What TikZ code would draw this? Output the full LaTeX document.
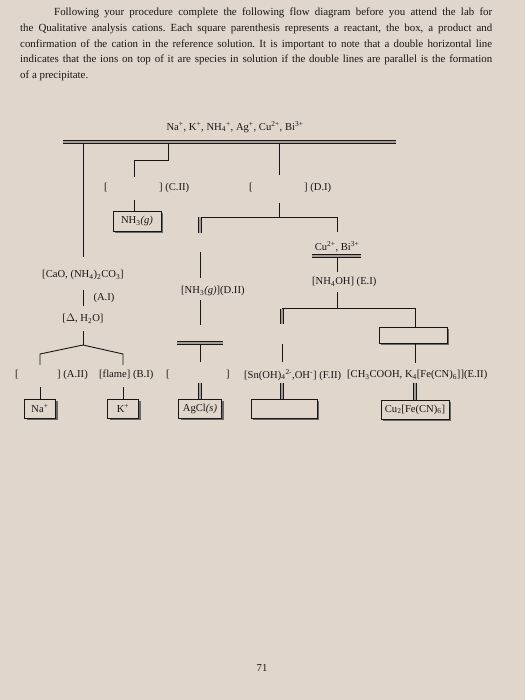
\documentclass[tikz,border=0pt]{standalone}
\usepackage{fontspec}
\setmainfont{Liberation Serif}
\usepackage{tikz}
\usetikzlibrary{positioning,shadows}
\definecolor{paper}{RGB}{224,214,204}
\definecolor{ink}{RGB}{24,22,22}
\newcommand{\dn}[1]{\textsubscript{#1}}
\newcommand{\up}[1]{\textsuperscript{#1}}
\frenchspacing
\begin{document}
\begin{tikzpicture}[x=1pt,y=-1pt,
  every node/.style={font=\fontsize{10.6}{12}\selectfont,text=ink,inner sep=0pt},
  lbl/.style={anchor=west},
  ln/.style={draw=ink,line width=.9pt},
  soln/.style={draw=ink,line width=1pt,double=ink!30!paper,double distance=1.3pt},
  prod/.style={draw=ink,line width=.9pt,fill=paper,minimum height=19pt,
    drop shadow={shadow xshift=2pt,shadow yshift=-2pt,fill=ink!65,opacity=1}}]
\fill[paper](0,0) rectangle (525,700);
\useasboundingbox(0,0) rectangle (525,700);
\node[anchor=north west,text width=472pt,align=justify,font=\fontsize{10.9}{15.6}\selectfont](intro) at (20,8){\hspace*{34pt}Following your procedure complete the following flow diagram before you attend the lab for\linebreak
the Qualitative analysis cations. Each square parenthesis represents a reactant, the box, a product and\linebreak
confirmation of the cation in the reference solution. It is important to note that a double horizontal line\linebreak
indicates that the ions on top of it are species in solution if the double lines are parallel is the formation\linebreak
of a precipitate.};
\node(ions) at (235,127){Na\up{+}, K\up{+}, NH\dn{4}\up{+}, Ag\up{+}, Cu\up{2+}, Bi\up{3+}};
\coordinate(topL) at (63,142);
\coordinate(topR) at (396,142);
\draw[soln](topL)--(topR);
\coordinate(A0) at (83,143.5);
\coordinate(A1) at (83,257);
\node(CaO) at (83,275){[CaO, (NH\dn{4})\dn{2}CO\dn{3}]};
\coordinate(A2) at (83,290);
\coordinate(A3) at (83,306);
\node(AI) at (104,298){(A.I)};
\node(heat) at (83,319){[$\Delta$, H\dn{2}O]};
\coordinate(A4) at (83,331);
\coordinate(A5) at (83,345);
\coordinate(A6) at (40,354);
\coordinate(A7) at (40,365);
\coordinate(A8) at (123,354);
\coordinate(A9) at (123,365);
\draw[ln](A0)--(A1);
\draw[ln](A2)--(A3);
\draw[ln](A4)--(A5);
\draw[ln](A7)--(A6)--(A5)--(A8)--(A9);
\node(b1) at (17,375){[};
\node[lbl](AII) at (57,375){] (A.II)};
\node[lbl](BI) at (99,375){[flame] (B.I)};
\coordinate(A10) at (40,387);
\coordinate(A11) at (123,387);
\node[prod,minimum width=31pt](Na) at (40,408.5){Na\up{+}};
\node[prod,minimum width=31pt](K) at (123,408.5){K\up{+}};
\draw[ln](A10)--(Na.north);
\draw[ln](A11)--(K.north);
\coordinate(C0) at (168,144);
\coordinate(C1) at (168,160);
\coordinate(C2) at (134,160);
\coordinate(C3) at (134,177);
\draw[ln](C0)--(C1)--(C2)--(C3);
\node(b2) at (106,188){[};
\node[lbl](CII) at (159,188){] (C.II)};
\coordinate(C4) at (134,200);
\node[prod,minimum width=48pt,minimum height=20pt](NH3) at (137,221){NH\dn{3}\textit{(g)}};
\draw[ln](C4)--(C4|-NH3.north);
\coordinate(D0) at (279,144);
\coordinate(D1) at (279,175);
\draw[ln](D0)--(D1);
\node(b3) at (251,188){[};
\node[lbl](DI) at (304,188){] (D.I)};
\coordinate(D2) at (279,203);
\coordinate(D3) at (279,217);
\coordinate(D4) at (200,217);
\coordinate(D5) at (337,217);
\coordinate(D6) at (200,233);
\coordinate(D7) at (337,232);
\draw[ln](D2)--(D3);
\draw[ln](D7)--(D5)--(D4)--(200,218);
\draw[soln](200,217.5)--(D6);
\coordinate(G0) at (200,252);
\coordinate(G1) at (200,278);
\node[lbl](DII) at (181,291){[NH\dn{3}\textit{(g)}](D.II)};
\coordinate(G2) at (200,300);
\coordinate(G3) at (200,325);
\coordinate(G4) at (177,343);
\coordinate(G5) at (223,343);
\coordinate(G6) at (200,345);
\coordinate(G7) at (200,362);
\draw[ln](G0)--(G1);
\draw[ln](G2)--(G3);
\draw[soln](G4)--(G5);
\draw[ln](G6)--(G7);
\node(b4) at (168,375){[};
\node(b5) at (228,375){]};
\coordinate(G8) at (200,383);
\node[prod,minimum width=43pt](AgCl) at (200,408.5){AgCl\textit{(s)}};
\draw[soln](G8)--(AgCl.north);
\node(CuBi) at (337,247){Cu\up{2+}, Bi\up{3+}};
\coordinate(E0) at (312,256);
\coordinate(E1) at (361,256);
\draw[soln](E0)--(E1);
\coordinate(E2) at (337,258);
\coordinate(E3) at (337,272);
\draw[ln](E2)--(E3);
\node[lbl](EI) at (312,282){[NH\dn{4}OH] (E.I)};
\coordinate(E4) at (337,292);
\coordinate(E5) at (337,308);
\coordinate(E6) at (282,308);
\coordinate(E7) at (415,308);
\coordinate(E8) at (282,324);
\draw[ln](E4)--(E5);
\node[prod,minimum width=68pt,minimum height=16pt](Bbox) at (413,335){};
\draw[ln](Bbox.north-|E7)--(E7)--(E6)--(282,309);
\draw[soln](282,308.5)--(E8);
\coordinate(E9) at (415,363);
\draw[ln](Bbox.south-|E9)--(E9);
\coordinate(F0) at (282,344);
\coordinate(F1) at (282,362);
\draw[ln](F0)--(F1);
\node[lbl](FII) at (244,375){[Sn(OH)\dn{4}\up{2-},OH\up{-}] (F.II)};
\node[lbl](EII) at (347,375){[CH\dn{3}COOH, K\dn{4}[Fe(CN)\dn{6}]](E.II)};
\coordinate(F2) at (282,383);
\coordinate(E10) at (415,383);
\node[prod,minimum width=66pt](Sn) at (284,408.5){};
\node[prod,minimum width=68pt](Cu) at (415,409.5){Cu\dn{2}[Fe(CN)\dn{6}]};
\draw[soln](F2)--(F2|-Sn.north);
\draw[soln](E10)--(Cu.north);
\node(page) at (262,668){71};
\end{tikzpicture}
\end{document}
